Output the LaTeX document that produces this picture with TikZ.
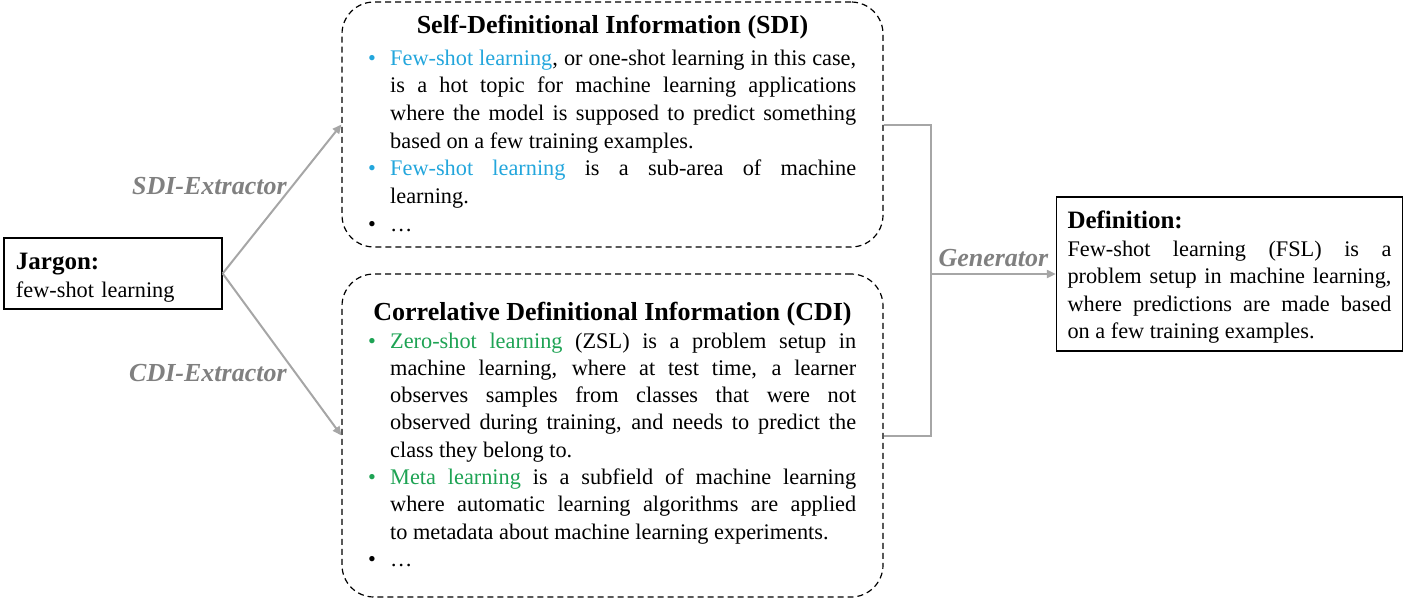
\documentclass[tikz,border=0pt]{standalone}
\usepackage{fontspec}
\setmainfont{Liberation Serif}
\usetikzlibrary{arrows.meta}
\definecolor{sdiblue}{RGB}{35,166,220}
\definecolor{cdigreen}{RGB}{30,163,84}
\definecolor{arrowgray}{RGB}{166,166,166}
\definecolor{labelgray}{RGB}{128,128,128}
\newcommand{\bitem}[2]{\hangindent=22pt\hangafter=1\noindent\makebox[22pt][l]{\textcolor{#1}{\textbullet}}\ignorespaces#2\par}
\tikzset{
  dbox/.style={draw=black, line width=1.2pt, dash pattern=on 6pt off 4pt, rounded corners=32pt, inner sep=0pt},
  sbox/.style={draw=black, line width=1.3pt, inner ysep=0pt, align=justify},
  bodytext/.style={inner sep=0pt, align=justify, text width=488pt},
  titletext/.style={inner sep=0pt, font=\fontsize{26}{30}\selectfont\bfseries},
  flow/.style={draw=arrowgray, line width=2pt, -{Triangle[length=9pt,width=8pt]}},
  flowline/.style={draw=arrowgray, line width=2pt},
  steplabel/.style={text=labelgray, font=\fontsize{26}{30}\selectfont\bfseries\itshape, inner sep=0pt}
}
\begin{document}
\begin{tikzpicture}[x=1pt,y=-1pt]
\useasboundingbox (0,0) rectangle (1409,600);

% boxes
\node[dbox, minimum width=541pt, minimum height=245pt] (sdi) at (612.5,124.5) {};
\node[dbox, minimum width=541pt, minimum height=323pt] (cdi) at (612.5,435.5) {};

\node[sbox, text width=194pt, inner xsep=12pt, minimum height=71pt, align=left,
      font=\fontsize{22.3}{28}\selectfont] (jargon) at (113,273.5)
  {{\fontsize{25}{28}\selectfont\bfseries\rule{0pt}{25pt}Jargon:}\\few-shot learning};

\node[sbox, text width=324pt, inner xsep=11pt, minimum height=154pt,
      font=\fontsize{22.3}{27.5}\selectfont] (def) at (1229.5,274)
  {{\fontsize{25}{27.5}\selectfont\bfseries\rule{0pt}{24pt}Definition:}\\Few-shot learning (FSL) is a\linebreak problem setup in machine learning,\linebreak where predictions are made based\linebreak on a few training examples.};

% titles
\node[titletext, anchor=base] (sdititle) at (612.5,33) {Self-Definitional Information (SDI)};
\node[titletext, anchor=base] (cdititle) at (612.5,320) {Correlative Definitional Information (CDI)};

% bodies
\node[bodytext, anchor=base west, font=\fontsize{22.3}{27.7}\selectfont] (sditext) at (368,65) {%
\bitem{sdiblue}{\textcolor{sdiblue}{Few-shot learning}, or one-shot learning in this case,\linebreak is a hot topic for machine learning applications\linebreak where the model is supposed to predict something\linebreak based on a few training examples.}%
\bitem{sdiblue}{\textcolor{sdiblue}{Few-shot learning} is a sub-area of machine\linebreak learning.}%
\bitem{black}{…}};

\node[bodytext, anchor=base west, font=\fontsize{22.3}{27.3}\selectfont] (cditext) at (368,348) {%
\bitem{cdigreen}{\textcolor{cdigreen}{Zero-shot learning} (ZSL) is a problem setup in\linebreak machine learning, where at test time, a learner\linebreak observes samples from classes that were not\linebreak observed during training, and needs to predict the\linebreak class they belong to.}%
\bitem{cdigreen}{\textcolor{cdigreen}{Meta learning} is a subfield of machine learning\linebreak where automatic learning algorithms are applied\linebreak to metadata about machine learning experiments.}%
\bitem{black}{…}};

% connectors
\draw[flow] (jargon.east) -- node[steplabel, pos=0.59, anchor=east, xshift=-5pt] (sdilab) {SDI-Extractor} (sdi.west);
\draw[flow] (jargon.east) -- node[steplabel, pos=0.615, anchor=east, xshift=-8pt] (cdilab) {CDI-Extractor} (cdi.west);

\coordinate (bx) at (931,274);
\draw[flowline] (sdi.east) -| (bx) |- (cdi.east);
\draw[flow] (bx) -- node[steplabel, midway, anchor=base, yshift=8pt] (genlab) {Generator} (def.west);
\end{tikzpicture}
\end{document}
